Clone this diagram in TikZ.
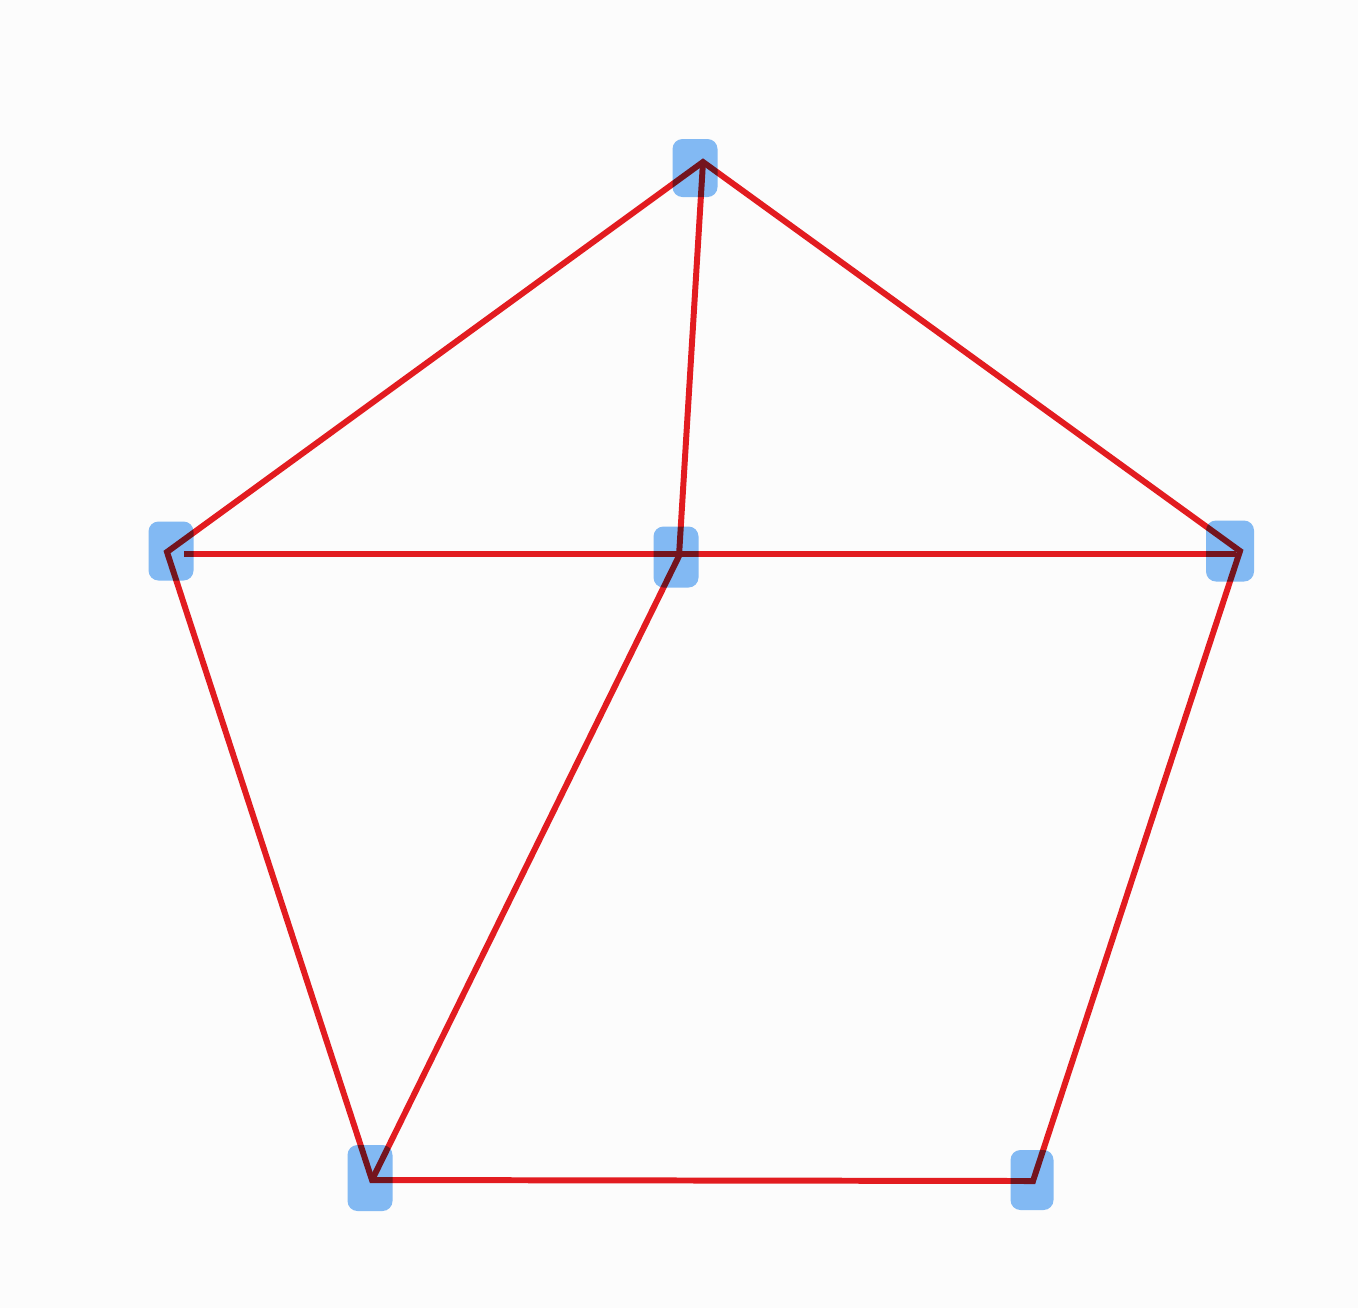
\documentclass[tikz,border=0pt]{standalone}
\usepackage{xcolor}
\usepackage{tikz}
\usetikzlibrary{positioning,calc}
\definecolor{edgered}{RGB}{226,28,32}
\definecolor{vblue}{RGB}{132,188,246}
\definecolor{bgwhite}{RGB}{252,252,252}
\tikzset{
  edge/.style={draw=edgered, line width=1.7pt, line join=miter},
  vbox/.style={fill=vblue, rounded corners=1mm, minimum width=4.5mm, minimum height=6mm, inner sep=0pt}
}

\begin{document}
\begin{tikzpicture}[x=0.1mm, y=-0.1mm]
% Background
\fill[bgwhite] (0,0) rectangle (1358,1308);
\useasboundingbox (0,0) rectangle (1358,1308);

% Vertex points
\coordinate (top) at (703,162);
\coordinate (mid) at (679,556);
\coordinate (left) at (167,552);
\coordinate (right) at (1240,551);
\coordinate (botl) at (372,1180);
\coordinate (botr) at (1033,1181);
\coordinate (hstart) at (184,554);
\coordinate (hend) at (1236,554);

% Edges
\draw[edge] (left) -- (top) -- (right) -- (botr) -- (botl) -- cycle;
\draw[edge] (top) -- (mid) -- (botl);
\draw[edge] (hstart) -- (hend);

% Vertex boxes
\begin{scope}[blend mode=multiply]
\node[vbox, minimum height=5.8mm] (topbox) at (695,168) {};
\node[vbox, minimum height=6.1mm] (midbox) at (676,557) {};
\node[vbox, minimum height=5.9mm] (leftbox) at (171,551) {};
\node[vbox, minimum width=4.8mm, minimum height=6.1mm] (rightbox) at (1230,551) {};
\node[vbox, minimum height=6.6mm] (botlbox) at (370,1178) {};
\node[vbox, minimum width=4.3mm] (botrbox) at (1032,1180) {};
\end{scope}
\end{tikzpicture}
\end{document}
